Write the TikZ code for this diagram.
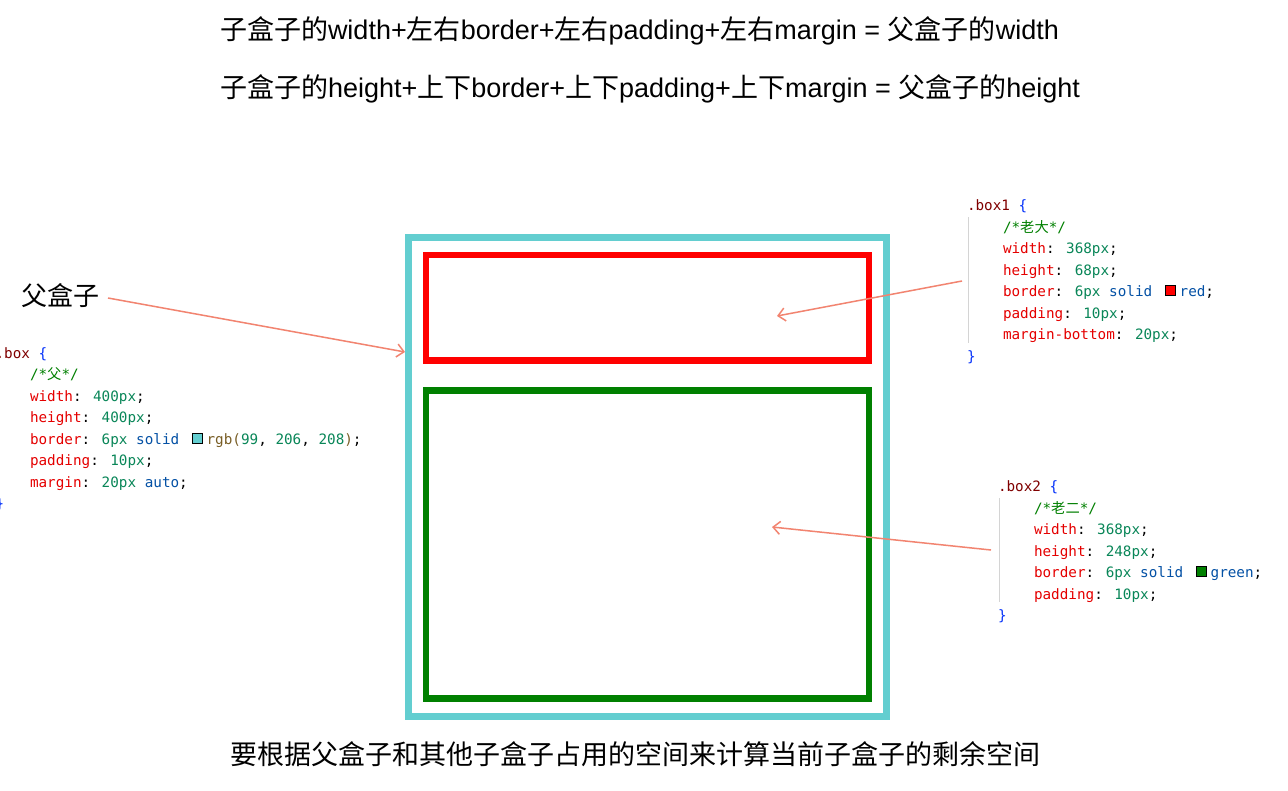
\documentclass[tikz,border=0pt]{standalone}
\usepackage{fontspec}
\usepackage{xcolor}
\usetikzlibrary{arrows.meta}
\setmainfont{Liberation Sans}
\newfontfamily\cjk{Noto Sans CJK SC}
\newfontfamily\code{DejaVu Sans Mono}
\definecolor{tealc}{RGB}{99,206,208}
\definecolor{redc}{RGB}{255,0,0}
\definecolor{greenc}{RGB}{0,128,0}
\definecolor{arrowc}{RGB}{242,132,112}
\definecolor{csel}{RGB}{128,0,0}
\definecolor{cbrace}{RGB}{4,49,250}
\definecolor{ccom}{RGB}{0,128,0}
\definecolor{cprop}{RGB}{229,0,0}
\definecolor{cnum}{RGB}{9,134,88}
\definecolor{ckw}{RGB}{4,81,165}
\definecolor{cfun}{RGB}{121,94,38}
\definecolor{cguide}{RGB}{212,212,212}
\newcommand\cprop[1]{\textcolor{cprop}{#1}}
\newcommand\cnum[1]{\textcolor{cnum}{#1}}
\newcommand\ckw[1]{\textcolor{ckw}{#1}}
\newcommand\csel[1]{\textcolor{csel}{#1}}
\newcommand\cbr[1]{\textcolor{cbrace}{#1}}
\newcommand\ccom[1]{\textcolor{ccom}{#1}}
\newcommand\cfun[1]{\textcolor{cfun}{#1}}
\newcommand\swatch[1]{\hspace{4.2pt}\raisebox{1.3pt}{\setlength\fboxsep{0pt}\setlength\fboxrule{1pt}\fcolorbox{black}{#1}{\rule{0pt}{9pt}\hspace{9.4pt}}}\hspace{3.2pt}}
\begin{document}
\begin{tikzpicture}[x=1pt,y=-1pt,
  every node/.style={inner sep=0pt, outer sep=0pt},
  title/.style={anchor=base west, font=\fontsize{27}{27}\selectfont},
  codeline/.style={anchor=base west, font=\code\fontsize{14.3}{14.3}\selectfont},
  boxframe/.style={draw, line width=6.6pt, minimum width=#1, fill=none},
  pointer/.style={draw=arrowc, line width=1.5pt, -{Straight Barb[length=7pt,width=13pt]}},
  guide/.style={draw=cguide, line width=1pt}]
\useasboundingbox (0,0) rectangle (1288,790);
\fill[white] (0,0) rectangle (1288,790);

% titles
\node[title] (t1) at (220,39) {{\cjk 子盒子的}width+{\cjk 左右}border+{\cjk 左右}padding+{\cjk 左右}margin = {\cjk 父盒子的}width};
\node[title] (t2) at (220,97) {{\cjk 子盒子的}height+{\cjk 上下}border+{\cjk 上下}padding+{\cjk 上下}margin = {\cjk 父盒子的}height};
\node[title] (t3) at (230,764) {\cjk 要根据父盒子和其他子盒子占用的空间来计算当前子盒子的剩余空间};
\node[anchor=base west, font=\cjk\fontsize{26}{26}\selectfont] (plabel) at (21,305) {父盒子};

% boxes
\node[boxframe=478.3pt, draw=tealc, minimum height=479pt] (parent) at (647.6,477) {};
\node[boxframe=443pt, draw=redc, minimum height=105.7pt] (box1) at (647.5,307.9) {};
\node[boxframe=443pt, draw=greenc, minimum height=307.6pt] (box2) at (647.5,544.5) {};

% left code
\node[codeline] (c0) at (-4.4,358) {\csel{.box} \cbr{\{}};
\node[codeline] (c1) at (30,379.5) {\ccom{/*{\cjk 父}*/}};
\node[codeline] (c2) at (30,401) {\cprop{width}: \cnum{400px};};
\node[codeline] (c3) at (30,422.5) {\cprop{height}: \cnum{400px};};
\node[codeline] (c4) at (30,444) {\cprop{border}: \cnum{6px} \ckw{solid} \swatch{tealc}\cfun{rgb(}\cnum{99}, \cnum{206}, \cnum{208}\cfun{)};};
\node[codeline] (c5) at (30,465.5) {\cprop{padding}: \cnum{10px};};
\node[codeline] (c6) at (30,487) {\cprop{margin}: \cnum{20px} \ckw{auto};};
\node[codeline] (c7) at (-4.4,508.5) {\cbr{\}}};

% box1 code
\draw[guide] (968.3,217) -- (968.3,343);
\node[codeline] (d0) at (967,210.5) {\csel{.box1} \cbr{\{}};
\node[codeline] (d1) at (1003,232) {\ccom{/*{\cjk 老大}*/}};
\node[codeline] (d2) at (1003,253.5) {\cprop{width}: \cnum{368px};};
\node[codeline] (d3) at (1003,275) {\cprop{height}: \cnum{68px};};
\node[codeline] (d4) at (1003,296.5) {\cprop{border}: \cnum{6px} \ckw{solid} \swatch{redc}\ckw{red};};
\node[codeline] (d5) at (1003,318) {\cprop{padding}: \cnum{10px};};
\node[codeline] (d6) at (1003,339.5) {\cprop{margin-bottom}: \cnum{20px};};
\node[codeline] (d7) at (967,361) {\cbr{\}}};

% box2 code
\draw[guide] (999,498) -- (999,602);
\node[codeline] (e0) at (998,491.5) {\csel{.box2} \cbr{\{}};
\node[codeline] (e1) at (1034,513) {\ccom{/*{\cjk 老二}*/}};
\node[codeline] (e2) at (1034,534.5) {\cprop{width}: \cnum{368px};};
\node[codeline] (e3) at (1034,556) {\cprop{height}: \cnum{248px};};
\node[codeline] (e4) at (1034,577.5) {\cprop{border}: \cnum{6px} \ckw{solid} \swatch{greenc}\ckw{green};};
\node[codeline] (e5) at (1034,599) {\cprop{padding}: \cnum{10px};};
\node[codeline] (e6) at (998,620.5) {\cbr{\}}};

% arrows
\coordinate (a1s) at (108,298);
\coordinate (a1e) at (405,352);
\coordinate (a2s) at (962,281);
\coordinate (a2e) at (777,316);
\coordinate (a3s) at (991,550);
\coordinate (a3e) at (772,527);
\draw[pointer] (a1s) -- (a1e);
\draw[pointer] (a2s) -- (a2e);
\draw[pointer] (a3s) -- (a3e);
\end{tikzpicture}
\end{document}
